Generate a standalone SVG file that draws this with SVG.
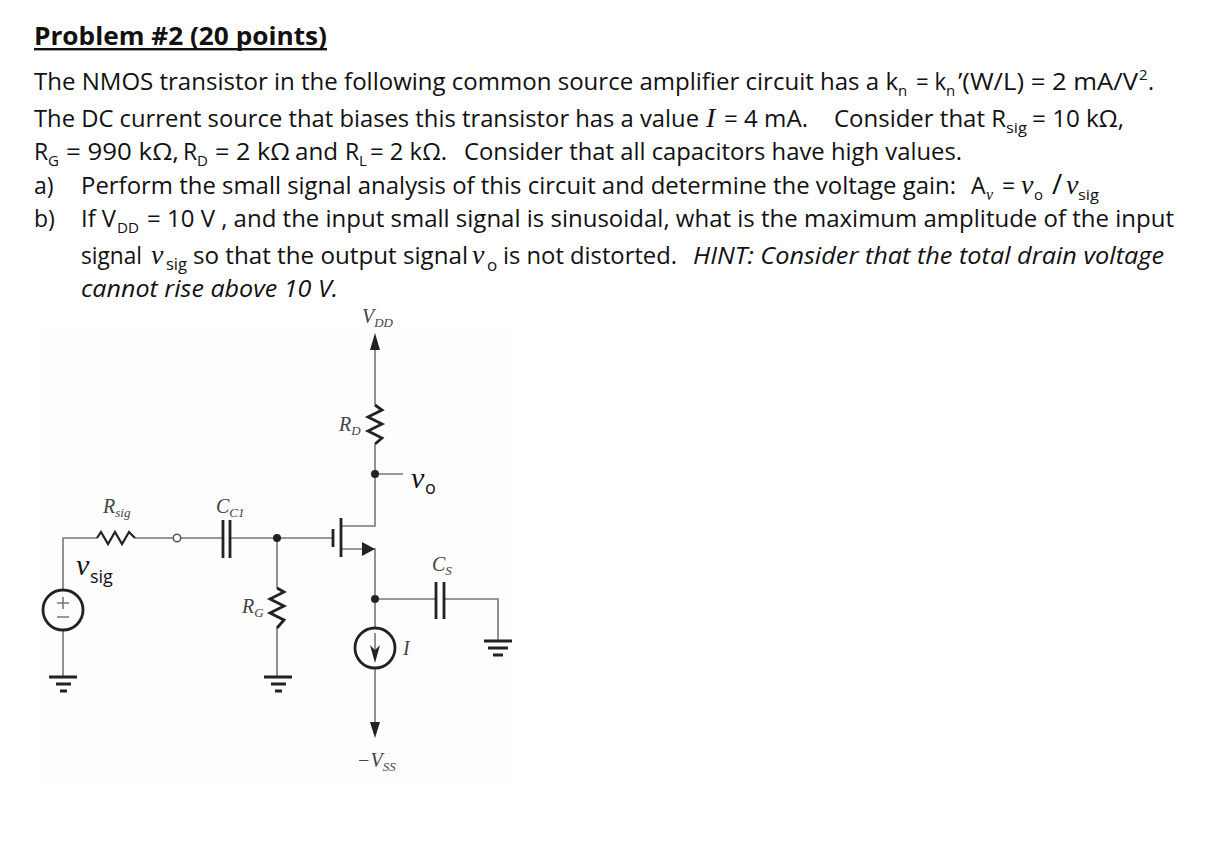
<svg xmlns="http://www.w3.org/2000/svg" width="1206" height="860" viewBox="0 0 1206 860">
<style>
.t{font-family:"Open Sans","Liberation Sans",sans-serif;font-size:23px;fill:#111}
.i{font-style:italic}
.s{font-family:"Open Sans","Liberation Sans",sans-serif;font-size:15px;fill:#111}
.m{font-family:"Liberation Serif",serif;font-style:italic;font-size:28px;fill:#111}
.ms{font-family:"Liberation Serif",serif;font-style:italic;font-size:16px;fill:#111}
.h{font-family:"Open Sans","Liberation Sans",sans-serif;font-size:25px;font-weight:700;fill:#111}
.l{font-family:"Liberation Serif",serif;font-style:italic;font-size:20px;fill:#444}
.ls{font-family:"Liberation Serif",serif;font-style:italic;font-size:13px;fill:#444}
.lr{font-family:"Liberation Serif",serif;font-size:13px;fill:#444}
.w{fill:none;stroke:#777;stroke-width:1.6}
.b{fill:none;stroke:#222;stroke-width:2.8}
.d{fill:#222}
.v{font-family:"Liberation Serif",serif;font-style:italic;font-size:30px;fill:#111}
.vs{font-family:"Open Sans","Liberation Sans",sans-serif;font-size:18px;fill:#111}
</style>
<rect width="1206" height="860" fill="#fff"/>
<rect x="38" y="330" width="472" height="450" fill="#fdfdfd"/>
<g id="text">
<text class="h" x="34" y="45" textLength="293" lengthAdjust="spacingAndGlyphs">Problem #2 (20 points)</text>
<rect x="34" y="48" width="293" height="2.4" fill="#111"/>
<text class="t" x="34" y="90" textLength="864" lengthAdjust="spacingAndGlyphs">The NMOS transistor in the following common source amplifier circuit has a k</text>
<text class="s" x="898" y="96">n</text>
<text class="t" x="916" y="90" textLength="30" lengthAdjust="spacingAndGlyphs">= k</text>
<text class="s" x="946" y="96">n</text>
<text class="t" x="958" y="90" textLength="180" lengthAdjust="spacingAndGlyphs">’(W/L) = 2 mA/V</text>
<text class="s" x="1139" y="80">2</text>
<text class="t" x="1148" y="90">.</text>
<text class="t" x="34" y="127" textLength="665" lengthAdjust="spacingAndGlyphs">The DC current source that biases this transistor has a value</text>
<text class="m" x="706" y="127">I</text>
<text class="t" x="724" y="127" textLength="84" lengthAdjust="spacingAndGlyphs">= 4 mA.</text>
<text class="t" x="834" y="127" textLength="172" lengthAdjust="spacingAndGlyphs">Consider that R</text>
<text class="s" x="1006" y="133" textLength="21" lengthAdjust="spacingAndGlyphs">sig</text>
<text class="t" x="1032" y="127" textLength="92" lengthAdjust="spacingAndGlyphs">= 10 kΩ,</text>
<text class="t" x="34" y="160">R</text>
<text class="s" x="48" y="166">G</text>
<text class="t" x="66" y="160" textLength="113" lengthAdjust="spacingAndGlyphs">= 990 kΩ,</text>
<text class="t" x="183" y="160">R</text>
<text class="s" x="197" y="166">D</text>
<text class="t" x="215" y="160" textLength="75" lengthAdjust="spacingAndGlyphs">= 2 kΩ</text>
<text class="t" x="295" y="160" textLength="43" lengthAdjust="spacingAndGlyphs">and</text>
<text class="t" x="345" y="160">R</text>
<text class="s" x="359" y="166">L</text>
<text class="t" x="370" y="160" textLength="77" lengthAdjust="spacingAndGlyphs">= 2 kΩ.</text>
<text class="t" x="464" y="160" textLength="498" lengthAdjust="spacingAndGlyphs">Consider that all capacitors have high values.</text>
<text class="t" x="34" y="194">a)</text>
<text class="t" x="81" y="194" textLength="875" lengthAdjust="spacingAndGlyphs">Perform the small signal analysis of this circuit and determine the voltage gain:</text>
<text class="t" x="971" y="194">A</text>
<text class="ms" x="986" y="200">v</text>
<text class="t" x="1002" y="194">=</text>
<text class="m" x="1021" y="194">v</text>
<text class="s" x="1034" y="200">o</text>
<text class="t" x="1052" y="194" style="font-size:28px">/</text>
<text class="m" x="1066" y="194">v</text>
<text class="s" x="1078" y="200" textLength="21" lengthAdjust="spacingAndGlyphs">sig</text>
<text class="t" x="34" y="227">b)</text>
<text class="t" x="81" y="227" textLength="35" lengthAdjust="spacingAndGlyphs">If V</text>
<text class="s" x="117" y="233" textLength="22" lengthAdjust="spacingAndGlyphs">DD</text>
<text class="t" x="147" y="227" textLength="1027" lengthAdjust="spacingAndGlyphs">= 10 V , and the input small signal is sinusoidal, what is the maximum amplitude of the input</text>
<text class="t" x="81" y="264" textLength="61" lengthAdjust="spacingAndGlyphs">signal</text>
<text class="m" x="151" y="264">v</text>
<text class="s" x="166" y="270" style="font-size:16px" textLength="21" lengthAdjust="spacingAndGlyphs">sig</text>
<text class="t" x="193" y="264" textLength="275" lengthAdjust="spacingAndGlyphs">so that the output signal</text>
<text class="m" x="472" y="264">v</text>
<text class="s" x="487" y="271" style="font-size:17px">o</text>
<text class="t" x="503" y="264" textLength="174" lengthAdjust="spacingAndGlyphs">is not distorted.</text>
<text class="t i" x="693" y="264" textLength="471" lengthAdjust="spacingAndGlyphs">HINT: Consider that the total drain voltage</text>
<text class="t i" x="81" y="297" textLength="257" lengthAdjust="spacingAndGlyphs">cannot rise above 10 V.</text>
</g>
<g id="connectors">
<path class="w" d="M63 590V538H97M135 538H173.500M181 538H223M230 538H333M277 538V588M277 628V677"/>
<path class="w" d="M63 630V677"/>
<path class="w" d="M375 350V405M375 444V526H341M403 474H375M341 549H375V628M375 668V722"/>
<path class="w" d="M375 599H436M444 599H498V641"/>
</g>
<g id="Vsig">
<circle class="b" cx="63" cy="610" r="20" fill="#fff"/>
<path d="M57 603H69M63 597V609M57 617H69" class="w"/>
</g>
<g id="GND1"><path class="b" d="M49 677H77M56 684H71M60 691H67"/></g>
<g id="Rsig"><path class="b" d="M97 538L101 532L108 544L115 532L122 544L129 532L135 538" style="stroke-width:2.200"/>
<text class="l" x="103" y="513">R<tspan class="lr" dy="4">sig</tspan></text></g>
<g id="InputNode"><circle cx="177" cy="538" r="3.700" fill="#fff" stroke="#555" stroke-width="1.500"/></g>
<g id="CC1"><path class="b" d="M223 520V558M230 520V558"/>
<text class="l" x="216" y="513">C<tspan class="ls" dy="4">C</tspan><tspan class="lr">1</tspan></text></g>
<g id="GateNode"><circle class="d" cx="277" cy="538" r="4"/></g>
<g id="RG"><path class="b" d="M277 588L284 592L270 599L284 606L270 613L284 620L277 628"/>
<text class="l" x="242" y="613">R<tspan class="ls" dy="4">G</tspan></text></g>
<g id="GND2"><path class="b" d="M264 677H292M271 684H286M275 691H282"/></g>
<g id="NMOS"><path class="b" d="M341 518V557M333 529V547"/><path class="d" d="M375 549L362 542V556Z"/></g>
<g id="VDD"><path class="d" d="M375 333L370 350H380Z"/>
<text class="l" x="362" y="323">V<tspan class="ls" dy="4">DD</tspan></text></g>
<g id="RD"><path class="b" d="M375 405L382 410L368 417L382 424L368 431L382 438L375 444"/>
<text class="l" x="339" y="431">R<tspan class="ls" dy="4">D</tspan></text></g>
<g id="OutputNode"><circle class="d" cx="375" cy="474" r="4"/>
<text class="v" x="411" y="488">v</text><text class="vs" x="425" y="494">o</text></g>
<g id="vsigLabel"><text class="v" x="76" y="575">v</text><text class="vs" x="90" y="583">sig</text></g>
<g id="SourceNode"><circle class="d" cx="375" cy="599" r="4"/></g>
<g id="CS"><path class="b" d="M436 582V619M444 582V619"/>
<text class="l" x="432" y="571">C<tspan class="ls" dy="4">S</tspan></text></g>
<g id="GND3"><path class="b" d="M484 641H512M488 648H508M493 655H503"/></g>
<g id="CurrentSource"><circle class="b" cx="375" cy="648" r="20" fill="#fff"/>
<path class="w" d="M375 633V655"/><path class="d" d="M375 663L370 645L375 650L380 645Z"/>
<text class="l" x="403" y="655">I</text></g>
<g id="VSS"><path class="d" d="M375 738L370 722H380Z"/>
<text class="l" x="357" y="767">−V<tspan class="ls" dy="4">SS</tspan></text></g>
</svg>
